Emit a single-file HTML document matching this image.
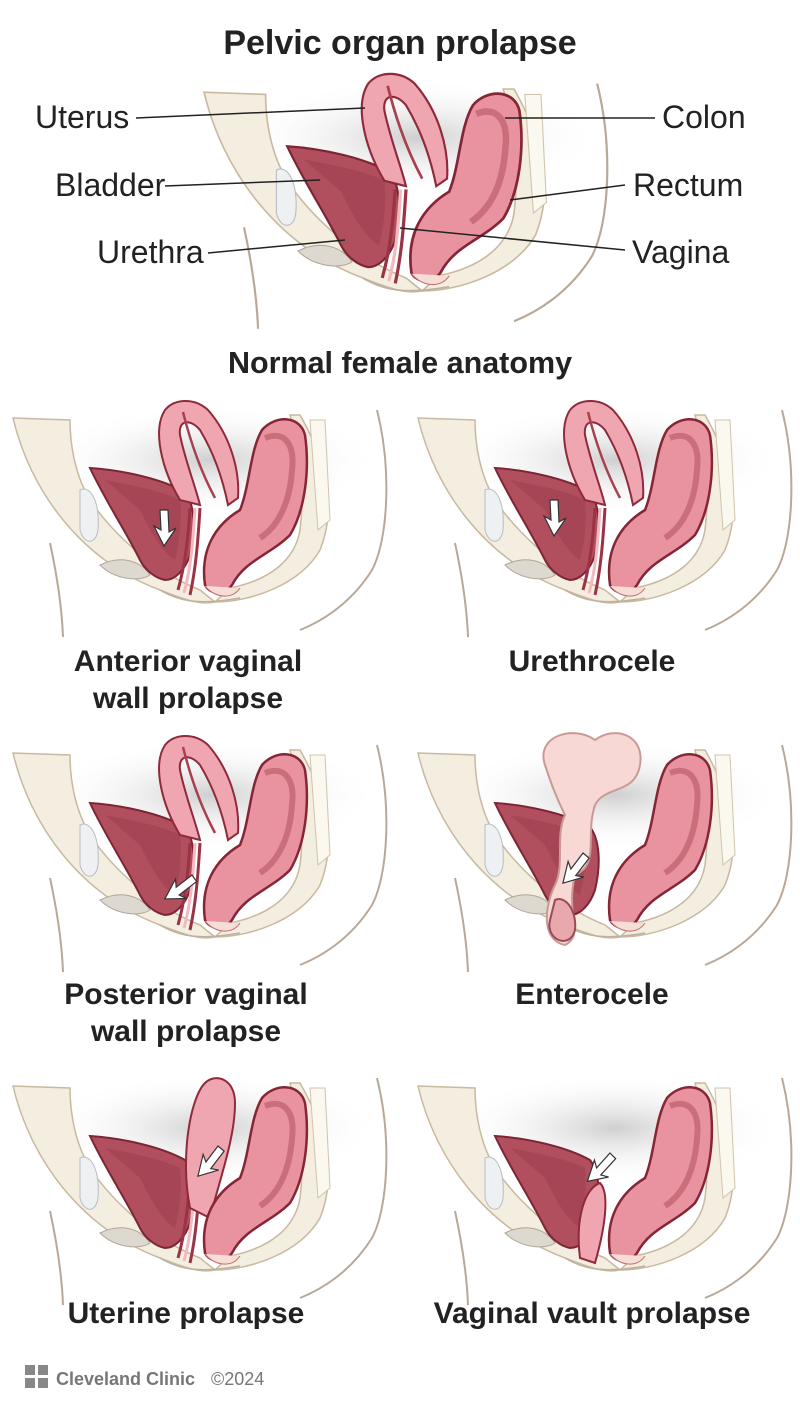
<!DOCTYPE html>
<html><head><meta charset="utf-8"><style>
body{margin:0;background:#fff;width:800px;height:1408px;overflow:hidden;font-family:"Liberation Sans",sans-serif;}
svg{position:absolute;left:0;top:0}
</style></head><body>
<svg width="800" height="1408" viewBox="0 0 800 1408" xmlns="http://www.w3.org/2000/svg">
<defs>
<radialGradient id="sh" cx="0.5" cy="0.5" r="0.5"><stop offset="0" stop-color="#cfcfcf"/><stop offset="1" stop-color="#fff" stop-opacity="0"/></radialGradient>
<g id="base">
 <ellipse cx="210" cy="70" rx="170" ry="55" fill="url(#sh)"/>
 <path d="M50,153 C58,190 62,220 63,247" fill="none" stroke="#b9a898" stroke-width="2"/>
 <path d="M377,20 C392,80 388,150 372,180 C350,215 320,232 300,240" fill="none" stroke="#b9a898" stroke-width="2"/>
 <path d="M13,28 C30,100 80,170 160,200 C185,210 200,215 215,212 L200,200 C150,180 110,140 90,110 C75,85 70,55 70,30 Z" fill="#f3eedf" stroke="#c8b9a0" stroke-width="1.5"/>
 <path d="M300,25 C320,60 340,110 320,160 C300,195 250,212 215,212 L230,198 C270,190 295,170 300,140 C305,100 300,60 290,25 Z" fill="#f3eedf" stroke="#c8b9a0" stroke-width="1.5"/>
 <path d="M310,30 L325,30 L330,130 L318,140 Z" fill="#fbf8ef" stroke="#cfc4ad"/>
 <path d="M80,100 C90,95 100,110 98,140 C96,155 84,155 80,140 Z" fill="#eef0f2" stroke="#b8bcc4"/>
 <path d="M100,175 C120,165 140,170 150,185 C140,192 115,190 100,175 Z" fill="#ddd8d0" stroke="#b0a798"/>
 <path d="M160,200 C180,212 200,215 240,208" fill="none" stroke="#c0b0a0" stroke-width="1.5"/>
</g>
<g id="bladder">
 <path d="M90,78 C120,80 160,88 185,102 C195,115 196,140 190,165 C185,180 175,190 165,190 C155,188 145,180 140,170 C125,140 105,110 90,78 Z" fill="#b24f5e" stroke="#7d2535" stroke-width="2"/>
 <path d="M105,90 C130,95 160,100 180,110 C182,130 180,150 175,170 C160,160 150,140 140,120 Z" fill="#9c4050" opacity=".6"/>
</g>
<g id="uterus">
 <path d="M180,110 C162,80 152,40 165,20 C175,8 195,8 208,20 C230,45 240,80 238,108 L228,115 C222,85 212,60 200,40 C190,28 178,30 180,45 C185,70 195,95 200,115 Z" fill="#f0a6b0" stroke="#8e2a3b" stroke-width="2"/>
 <path d="M183,22 C190,50 200,80 215,108" fill="none" stroke="#a8404f" stroke-width="2.5"/>
</g>
<g id="colon">
 <path d="M205,195 C200,160 215,135 240,120 C250,95 250,60 262,40 C275,25 300,25 305,45 C310,80 305,120 290,145 C270,165 245,170 232,195 C225,205 210,205 205,195 Z" fill="#e8939f" stroke="#862536" stroke-width="2.5"/>
 <path d="M265,48 C285,40 295,55 292,80 C290,110 280,135 260,148" fill="none" stroke="#b85565" stroke-width="6" opacity=".6"/>
 <path d="M205,196 C215,208 232,210 240,198" fill="#f6ddd6" stroke="#c07070"/>
</g>
<g id="vag">
 <path d="M190,118 C188,150 185,175 178,200 M200,118 C198,150 196,178 190,205" fill="none" stroke="#9a3344" stroke-width="3"/>
 <path d="M195,118 C193,150 191,178 184,203" fill="none" stroke="#f3b9c0" stroke-width="3"/>
</g>
<g id="full"><use href="#base"/><use href="#bladder"/><use href="#vag"/><use href="#uterus"/><use href="#colon"/></g>
<path id="arr" d="M0,0 L8,0 L9,22 L16,18 L4,36 L-6,16 L1,20 Z" fill="#fff" stroke="#333" stroke-width="1.2"/>
</defs>

<text x="400" y="54" text-anchor="middle" font-size="34" font-weight="bold" fill="#222">Pelvic organ prolapse</text>

<g transform="translate(190,62) scale(1.08)"><use href="#full"/></g>
<g font-size="32" fill="#222">
<text x="35" y="128">Uterus</text>
<text x="55" y="196">Bladder</text>
<text x="97" y="263">Urethra</text>
<text x="662" y="128">Colon</text>
<text x="633" y="196">Rectum</text>
<text x="632" y="263">Vagina</text>
</g>
<g stroke="#222" stroke-width="1.5" fill="none">
<path d="M136,118 L365,108"/><path d="M165,186 L320,180"/><path d="M208,253 L345,240"/>
<path d="M655,118 L505,118"/><path d="M625,185 L510,200"/><path d="M625,250 L400,228"/>
</g>
<text x="400" y="373" text-anchor="middle" font-size="30.5" font-weight="bold" fill="#222">Normal female anatomy</text>

<g transform="translate(0,390)"><use href="#full"/><use href="#arr" transform="translate(160,120)"/></g>
<g transform="translate(405,390)"><use href="#full"/><use href="#arr" transform="translate(145,110)"/></g>
<g transform="translate(0,725)"><use href="#full"/><use href="#arr" transform="translate(192,150) rotate(55)"/></g>
<g transform="translate(405,725)"><use href="#base"/><use href="#bladder"/><use href="#colon"/>
 <path d="M140,40 C130,10 170,0 190,15 C210,0 240,10 235,40 C230,70 200,60 190,80 C180,110 195,140 170,150 C160,190 180,210 160,220 C135,215 140,180 150,160 C160,140 150,110 160,90 C150,70 145,55 140,40 Z" fill="#f7d8d4" stroke="#c99a95" stroke-width="2"/>
 <path d="M145,195 C140,215 165,225 170,205 C172,185 160,170 150,175 Z" fill="#e8a8ae" stroke="#9a4b55" stroke-width="2"/>
 <use href="#arr" transform="translate(178,128) rotate(40)"/></g>
<g transform="translate(0,1058)"><use href="#base"/><use href="#bladder"/><use href="#vag"/>
 <path d="M190,150 C180,100 190,40 205,25 C215,15 235,20 235,45 C235,80 220,120 210,160 Z" fill="#f0a6b0" stroke="#8e2a3b" stroke-width="2"/>
 <use href="#colon"/><use href="#arr" transform="translate(218,88) rotate(40)"/></g>
<g transform="translate(405,1058)"><use href="#base"/><use href="#bladder"/><use href="#colon"/>
 <path d="M175,200 C170,160 180,130 195,125 C205,135 200,170 190,205 Z" fill="#f0a6b0" stroke="#8e2a3b" stroke-width="2"/>
 <use href="#arr" transform="translate(205,95) rotate(45)"/></g>

<g font-size="30" font-weight="bold" fill="#222" text-anchor="middle">
<text x="188" y="671">Anterior vaginal</text><text x="188" y="708">wall prolapse</text>
<text x="592" y="671">Urethrocele</text>
<text x="186" y="1004">Posterior vaginal</text><text x="186" y="1041">wall prolapse</text>
<text x="592" y="1004">Enterocele</text>
<text x="186" y="1323">Uterine prolapse</text>
<text x="592" y="1323">Vaginal vault prolapse</text>
</g>
<g fill="#888"><rect x="25" y="1365" width="10" height="10"/><rect x="38" y="1365" width="10" height="10"/><rect x="25" y="1378" width="10" height="10"/><rect x="38" y="1378" width="10" height="10"/></g>
<text x="56" y="1385" font-size="18" font-weight="bold" fill="#777">Cleveland Clinic</text>
<text x="211" y="1385" font-size="18" fill="#777">©2024</text>
</svg>
</body></html>
